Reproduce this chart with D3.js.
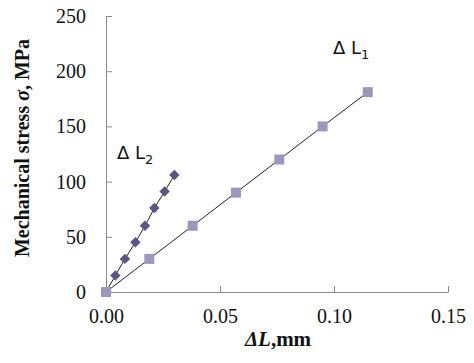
<!doctype html>
<html lang="en">
  <head>
    <meta charset="utf-8">
    <script src="https://cdn.jsdelivr.net/npm/d3@7"></script>
    <style>
body { margin: 0; background: #fff; }
svg { display: block; }
.tick text { font-family: "Liberation Serif", "Times New Roman", serif; font-size: 20px; fill: #111; }
.axis path, .axis line { stroke: #8a8a8a; stroke-width: 1; }
.title { font-family: "Liberation Serif", "Times New Roman", serif; font-weight: bold; fill: #111; }
.lbl { font-family: "DejaVu Sans", Verdana, sans-serif; font-size: 18px; fill: #111; }
    </style>
  </head>
  <body>
    <div id="chart"></div>
    <script>
//=============================== DATA ===================================
var xTicks = [0, 0.05, 0.10, 0.15]
var yTicks = [0, 50, 100, 150, 200, 250]

// dL1 - squares
var l1_x = [0, 0.019, 0.038, 0.057, 0.076, 0.095, 0.1148]
var l1_y = [0, 30, 60, 90, 120, 150, 181]
// dL2 - diamonds
var l2_x = [0, 0.0041, 0.0083, 0.0129, 0.0171, 0.0212, 0.0257, 0.0300]
var l2_y = [0, 15, 30, 45, 60, 76, 91, 106]

//=============================== DRAW ===================================
var W = 474, H = 363
var svg = d3.select('#chart').append('svg').attr('width', W).attr('height', H)

var x = d3.scaleLinear().domain([0, 0.15]).range([106, 448])
var y = d3.scaleLinear().domain([0, 250]).range([292, 16])

var gx = svg.append('g').attr('class', 'axis').attr('transform', 'translate(0,' + y(0) + ')')
	.call(d3.axisBottom(x).tickValues(xTicks).tickFormat(d3.format('.2f')).tickSizeInner(-6).tickSizeOuter(0).tickPadding(17))
gx.selectAll('.tick line').filter(function(d) { return d == 0 }).remove()

var gy = svg.append('g').attr('class', 'axis').attr('transform', 'translate(' + x(0) + ',0)')
	.call(d3.axisLeft(y).tickValues(yTicks).tickSizeInner(-6).tickSizeOuter(0).tickPadding(20))
gy.selectAll('.tick line').filter(function(d) { return d == 0 }).remove()

// y title
var yt = svg.append('text').attr('class', 'title')
	.attr('transform', 'translate(29,148) rotate(-90)')
	.attr('text-anchor', 'middle').style('font-size', '20px')
yt.append('tspan').text('Mechanical stress ')
yt.append('tspan').style('font-style', 'italic').text('σ')
yt.append('tspan').text(', MPa')

// x title
var xt = svg.append('text').attr('class', 'title')
	.attr('x', 278).attr('y', 346).attr('text-anchor', 'middle').style('font-size', '21px')
xt.append('tspan').style('font-style', 'italic').text('ΔL')
xt.append('tspan').text(',mm')

var line = d3.line().x(function(d) { return x(d[0]) }).y(function(d) { return y(d[1]) })

var s1 = l1_x.map(function(v, i) { return [v, l1_y[i]] })
var s2 = l2_x.map(function(v, i) { return [v, l2_y[i]] })

svg.append('path').datum(s1).attr('d', line).attr('fill', 'none').attr('stroke', '#222').attr('stroke-width', 1)
svg.append('path').datum(s2).attr('d', line).attr('fill', 'none').attr('stroke', '#222').attr('stroke-width', 1)

svg.selectAll('rect.sq').data(s1).enter().append('rect').attr('class', 'sq')
	.attr('x', function(d) { return x(d[0]) - 5 })
	.attr('y', function(d) { return y(d[1]) - 5 })
	.attr('width', 10).attr('height', 10)
	.attr('fill', '#9d97bd')

var diamond = d3.symbol().type(d3.symbolDiamond2).size(70)
svg.selectAll('path.dm').data(s2).enter().append('path').attr('class', 'dm')
	.attr('d', diamond)
	.attr('transform', function(d) { return 'translate(' + x(d[0]) + ',' + y(d[1]) + ')' })
	.attr('fill', '#5e5485')
// origin square drawn over diamond
svg.append('rect').attr('x', x(0) - 5).attr('y', y(0) - 5).attr('width', 10).attr('height', 10).attr('fill', '#9d97bd')

// series labels
var t1 = svg.append('text').attr('class', 'lbl').attr('x', 333).attr('y', 54)
t1.append('tspan').text('Δ L')
t1.append('tspan').attr('dy', 5).style('font-size', '13px').text('1')
var t2 = svg.append('text').attr('class', 'lbl').attr('x', 117).attr('y', 159)
t2.append('tspan').text('Δ L')
t2.append('tspan').attr('dy', 5).style('font-size', '13px').text('2')
    </script>
  </body>
</html>
